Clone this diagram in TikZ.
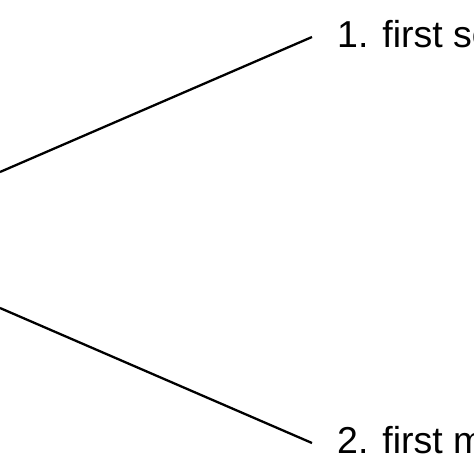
\documentclass[tikz,border=0pt]{standalone}
\usepackage{fontspec}
\setmainfont{Liberation Sans}
\begin{document}
\begin{tikzpicture}[x=1pt,y=-1pt,
  branch/.style={line width=2.3pt,black},
  leaf/.style={anchor=base west,inner sep=0pt,font=\fontsize{37.5}{45}\selectfont}]
\clip (0,0) rectangle (474,474);
\useasboundingbox (0,0) rectangle (474,474);
\coordinate (s1) at (0,172);
\coordinate (e1) at (312,37);
\coordinate (s2) at (0,308);
\coordinate (e2) at (312,443);
\node[leaf] (l1) at (337,47) {1. first se};
\node[leaf] (l2) at (337,453) {2. first m};
\draw[branch] (s1) -- (e1);
\draw[branch] (s2) -- (e2);
\end{tikzpicture}
\end{document}
